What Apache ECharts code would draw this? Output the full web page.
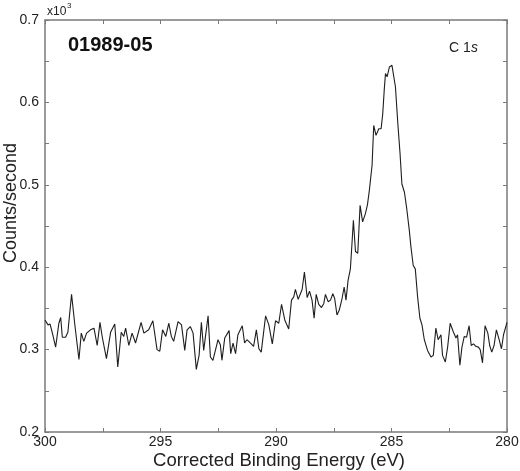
<!DOCTYPE html>
<html>
<head>
<meta charset="utf-8">
<script src="https://cdn.jsdelivr.net/npm/echarts@6/dist/echarts.min.js"></script>
<style>
html,body{margin:0;padding:0;background:#fff;}
#chart{width:520px;height:471px;}
</style>
</head>
<body>
<div id="chart"></div>
<script>
// Binding energy (eV)
const energies = [
300.00,299.87,299.78,299.68,299.54,299.40,299.32,299.25,299.11,299.01,
298.85,298.70,298.53,298.43,298.32,298.20,298.03,297.88,297.74,297.62,
297.52,297.34,297.16,296.98,296.85,296.70,296.59,296.51,296.37,296.23,
296.08,295.84,295.72,295.51,295.33,295.15,295.03,
294.91,294.77,294.64,294.53,294.43,294.24,294.09,293.95,293.85,293.71,
293.59,293.45,293.33,293.23,293.13,292.94,292.84,292.73,292.51,292.41,
292.34,292.22,292.03,291.96,291.86,291.75,291.65,291.46,291.36,291.26,
291.07,290.97,290.85,290.74,290.64,290.45,290.31,290.16,290.02,
289.88,289.76,289.62,289.45,289.33,289.23,289.16,289.04,288.87,288.77,
288.65,288.55,288.44,288.35,288.26,288.15,288.03,287.93,287.86,287.74,
287.64,287.54,287.46,287.36,287.26,287.14,287.05,286.97,286.88,286.78,
286.71,286.65,286.56,286.46,286.36,286.25,286.13,
286.04,285.96,285.84,285.77,285.67,285.55,285.45,285.38,285.31,285.26,
285.19,285.09,284.98,284.92,284.83,284.73,284.63,284.55,284.44,284.34,
284.23,
284.16,284.06,283.97,283.87,283.77,283.68,283.58,283.44,283.29,283.19,
283.08,282.98,282.86,282.79,282.67,282.57,282.46,282.33,282.21,282.14,
282.04,281.95,281.85,281.75,281.64,281.55,281.45,281.35,281.24,281.16,
281.06,280.95,280.83,280.75,280.66,280.56,280.46,280.34,280.24,280.15,
280.00
];
// Counts/second (x10^3)
const counts = [
0.336,0.330,0.331,0.320,0.303,0.332,0.339,0.315,0.315,0.321,
0.367,0.328,0.288,0.320,0.310,0.320,0.324,0.326,0.305,0.333,
0.315,0.289,0.321,0.331,0.279,0.321,0.316,0.326,0.305,0.320,
0.308,0.333,0.320,0.324,0.335,0.300,0.298,
0.324,0.316,0.332,0.316,0.310,0.334,0.330,0.299,0.324,0.328,
0.320,0.276,0.293,0.333,0.299,0.341,0.291,0.287,0.312,0.306,
0.287,0.314,0.323,0.295,0.308,0.295,0.318,0.329,0.308,0.312,
0.307,0.304,0.324,0.301,0.297,0.341,0.330,0.307,0.335,
0.332,0.355,0.336,0.325,0.360,0.364,0.373,0.361,0.373,0.394,
0.363,0.371,0.360,0.338,0.367,0.355,0.351,0.356,0.367,0.358,
0.360,0.368,0.362,0.342,0.348,0.362,0.376,0.360,0.384,0.398,
0.429,0.457,0.419,0.417,0.475,0.455,0.465,
0.476,0.493,0.524,0.572,0.560,0.568,0.568,0.586,0.617,0.635,
0.631,0.643,0.645,0.643,0.619,0.576,0.538,0.501,0.491,0.471,
0.445,
0.425,0.402,0.398,0.364,0.338,0.330,0.312,0.299,0.291,0.293,
0.326,0.312,0.318,0.293,0.285,0.303,0.332,0.322,0.314,0.318,
0.281,0.303,0.316,0.315,0.329,0.305,0.307,0.304,0.303,0.300,
0.284,0.329,0.320,0.305,0.297,0.305,0.324,0.312,0.301,0.318,
0.333
];
const xTicks = [280, 285, 290, 295, 300];
const yTicks = [0.2, 0.3, 0.4, 0.5, 0.6, 0.7];
const sampleLabel = '01989-05';
const regionLabel = 'C 1';
const regionOrbital = 's';
const xName = 'Corrected Binding Energy (eV)';
const yName = 'Counts/second';

const font = 'Liberation Sans, Arial, sans-serif';
const axisGray = '#7a7a7a';
const textCol = '#222';

const chart = echarts.init(document.getElementById('chart'));
const common = {
  type: 'value',
  axisLine: { show: true, onZero: false, lineStyle: { color: axisGray, width: 1.5 } },
  axisTick: { show: true, inside: true, length: 4, lineStyle: { color: axisGray, width: 1 } },
  minorTick: { show: true, splitNumber: 2, length: 4, lineStyle: { color: axisGray, width: 1 } },
  splitLine: { show: false },
  minorSplitLine: { show: false }
};
chart.setOption({
  animation: false,
  backgroundColor: '#fff',
  grid: { left: 45, right: 13, top: 20, bottom: 39, containLabel: false, outerBoundsMode: 'none' },
  xAxis: [
    Object.assign({}, common, {
      position: 'bottom', min: xTicks[0], max: xTicks[xTicks.length - 1], interval: 5, inverse: true,
      axisLabel: { show: true, margin: 3, fontSize: 14, color: textCol, fontFamily: font },
      name: xName, nameLocation: 'middle', nameGap: 19, nameMoveOverlap: false,
      nameTextStyle: { fontSize: 18.5, color: textCol, fontFamily: font, padding: [0, 0, 0, 6] }
    }),
    Object.assign({}, common, {
      position: 'top', min: xTicks[0], max: xTicks[xTicks.length - 1], interval: 5, inverse: true,
      axisLabel: { show: false }
    })
  ],
  yAxis: [
    Object.assign({}, common, {
      position: 'left', min: yTicks[0], max: yTicks[yTicks.length - 1], interval: 0.1,
      axisLabel: { show: true, margin: 6, fontSize: 14, color: textCol, fontFamily: font,
        formatter: v => v.toFixed(1) }
    }),
    Object.assign({}, common, {
      position: 'right', min: yTicks[0], max: yTicks[yTicks.length - 1], interval: 0.1,
      axisLabel: { show: false }
    })
  ],
  series: [{
    type: 'line',
    xAxisIndex: 0, yAxisIndex: 0,
    data: energies.map((e, i) => [e, counts[i]]),
    showSymbol: false,
    symbol: 'none',
    lineStyle: { color: '#1e1e1e', width: 1.1 },
    z: 3
  }],
  graphic: [
    { type: 'text', x: 11, y: 203, rotation: Math.PI / 2,
      style: { text: yName, fill: textCol, font: '18px ' + font, textAlign: 'center', textVerticalAlign: 'middle' } },
    { type: 'text', left: 47, top: 6, style: { text: 'x10', fill: textCol, font: '12px ' + font } },
    { type: 'text', left: 67, top: 2, style: { text: '3', fill: textCol, font: '8px ' + font } },
    { type: 'text', left: 68, top: 35, style: { text: sampleLabel, fill: '#111', font: 'bold 20px ' + font } },
    { type: 'text', left: 449, top: 41, style: { text: regionLabel, fill: textCol, font: '14px ' + font } },
    { type: 'text', left: 471, top: 41, style: { text: regionOrbital, fill: textCol, font: 'italic 14px ' + font } }
  ]
});
</script>
</body>
</html>
